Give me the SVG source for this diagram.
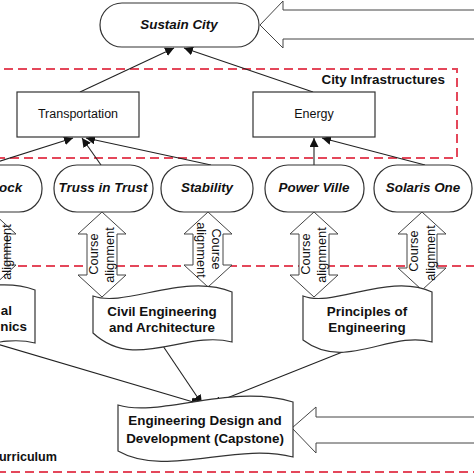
<svg xmlns="http://www.w3.org/2000/svg" width="474" height="474" viewBox="0 0 474 474">
<defs>
<style>
.bg{fill:#fff}
.nd{fill:#fff;stroke:#333;stroke-width:1.2}
.dash{fill:none;stroke:#e4475a;stroke-width:2;stroke-dasharray:9,5}
.cn{fill:none;stroke:#222;stroke-width:1.1;marker-end:url(#ah)}
.blk{fill:#fff;stroke:#444;stroke-width:1}
.t{font-family:"Liberation Sans",Arial,sans-serif;fill:#111;text-anchor:middle}
.bi{font-weight:bold;font-style:italic;font-size:13.4px}
.b{font-weight:bold;font-size:13.4px}
.r{font-size:12.5px}
.ca{font-size:12.8px}
</style>
<marker id="ah" viewBox="0 0 10 10" refX="10" refY="5" markerWidth="9" markerHeight="9" markerUnits="userSpaceOnUse" orient="auto">
<path d="M0,0 L10,5 L0,10 Z" fill="#111"/>
</marker>
</defs>
<rect class="bg" x="0" y="0" width="474" height="474"/>

<g id="groups">
<rect class="dash" x="-10" y="69" width="467" height="89"/>
<text class="t b" x="445" y="84" style="text-anchor:end">City Infrastructures</text>
<rect class="dash" x="-10" y="266" width="500" height="206"/>
<text class="t b" x="57" y="461" style="text-anchor:end;font-size:12.6px">urriculum</text>
</g>

<g id="input-arrows">
<polygon class="blk" points="260,25 283,1 283,10 480,10 480,39 283,39 283,48"/>
<polygon class="blk" points="292,428 316,407 316,417 480,417 480,443 316,443 316,453"/>
</g>

<g id="connectors">
<line class="cn" x1="80" y1="92" x2="174" y2="48"/>
<line class="cn" x1="313" y1="92" x2="184" y2="48"/>
<line class="cn" x1="-12" y1="165" x2="73" y2="138"/>
<line class="cn" x1="101" y1="165" x2="82" y2="138"/>
<line class="cn" x1="211" y1="165" x2="86" y2="138"/>
<line class="cn" x1="314" y1="165" x2="314" y2="138"/>
<line class="cn" x1="425" y1="165" x2="322" y2="138"/>
<line class="cn" x1="-30" y1="336" x2="200" y2="404"/>
<line class="cn" x1="163" y1="346" x2="202" y2="404"/>
<line class="cn" x1="350" y1="349" x2="212" y2="404"/>
</g>

<g id="sustain-city">
<rect class="nd" x="100" y="3" width="159" height="44" rx="22"/>
<text class="t bi" x="179" y="29">Sustain City</text>
</g>

<g id="transportation">
<rect class="nd" x="17" y="92" width="122" height="45"/>
<text class="t r" x="78" y="118">Transportation</text>
</g>
<g id="energy">
<rect class="nd" x="253" y="92" width="122" height="45"/>
<text class="t r" x="314" y="118">Energy</text>
</g>

<g id="ock">
<rect class="nd" x="-58" y="165" width="100" height="47" rx="23"/>
<text class="t bi" x="-1" y="192" style="text-anchor:start">ock</text>
</g>
<g id="truss-in-trust">
<rect class="nd" x="54" y="165" width="99" height="47" rx="23"/>
<text class="t bi" x="103" y="192">Truss in Trust</text>
</g>
<g id="stability">
<rect class="nd" x="161" y="165" width="92" height="47" rx="23"/>
<text class="t bi" x="207" y="192">Stability</text>
</g>
<g id="power-ville">
<rect class="nd" x="265" y="165" width="99" height="47" rx="23"/>
<text class="t bi" x="314" y="192">Power Ville</text>
</g>
<g id="solaris-one">
<rect class="nd" x="374" y="165" width="98" height="47" rx="23"/>
<text class="t bi" x="423" y="192">Solaris One</text>
</g>

<g id="align-ock">
<path class="blk" d="M-8,212 L16,234 L7,234 L7,265 L16,265 L-8,287 L-32,265 L-23,265 L-23,234 L-32,234 Z"/>
<text class="t ca" transform="translate(6.5,252) rotate(-90)" dy="0.35em">alignment</text>
</g>
<g id="align-truss">
<path class="blk" d="M102,212 L126,234 L117,234 L117,275 L126,275 L102,297 L78,275 L87,275 L87,234 L78,234 Z"/>
<text class="t ca" transform="translate(94,254) rotate(-90)" dy="0.35em">Course</text>
<text class="t ca" transform="translate(110,255) rotate(-90)" dy="0.35em">alignment</text>
</g>
<g id="align-stability">
<path class="blk" d="M208,212 L232,234 L223,234 L223,265 L232,265 L208,287 L184,265 L193,265 L193,234 L184,234 Z"/>
<text class="t ca" transform="translate(216,249) rotate(90)" dy="0.35em">Course</text>
<text class="t ca" transform="translate(201,250) rotate(90)" dy="0.35em">alignment</text>
</g>
<g id="align-power">
<path class="blk" d="M314,212 L338,234 L329,234 L329,275 L338,275 L314,297 L290,275 L299,275 L299,234 L290,234 Z"/>
<text class="t ca" transform="translate(306,254) rotate(-90)" dy="0.35em">Course</text>
<text class="t ca" transform="translate(322,255) rotate(-90)" dy="0.35em">alignment</text>
</g>
<g id="align-solaris">
<path class="blk" d="M422,212 L446,234 L437,234 L437,268 L446,268 L422,290 L398,268 L407,268 L407,234 L398,234 Z"/>
<text class="t ca" transform="translate(414,251) rotate(-90)" dy="0.35em">Course</text>
<text class="t ca" transform="translate(431,253) rotate(-90)" dy="0.35em">alignment</text>
</g>

<g id="doc-left">
<path class="nd" d="M-104,296 C-72,308 -12,272 35,290 L35,343 C-12,331 -60,373 -104,333 Z"/>
<text class="t b" x="12" y="315" style="text-anchor:end">al</text>
<text class="t b" x="27" y="331" style="text-anchor:end">nics</text>
</g>
<g id="civil-engineering">
<path class="nd" d="M93,296 C125,308 185,272 232,292 L232,342 C185,330 135,372 93,333 Z"/>
<text class="t b" x="162" y="316">Civil Engineering</text>
<text class="t b" x="162" y="332">and Architecture</text>
</g>
<g id="principles">
<path class="nd" d="M303,296 C333,308 390,272 432,292 L432,342 C390,330 345,372 303,340 Z"/>
<text class="t b" x="367" y="316">Principles of</text>
<text class="t b" x="367" y="332">Engineering</text>
</g>
<g id="edd">
<path class="nd" d="M118,405 C160,418 230,383 293,402 L293,457 C235,442 165,478 118,451 Z"/>
<text class="t b" x="205" y="425">Engineering Design and</text>
<text class="t b" x="205" y="443">Development (Capstone)</text>
</g>
</svg>
